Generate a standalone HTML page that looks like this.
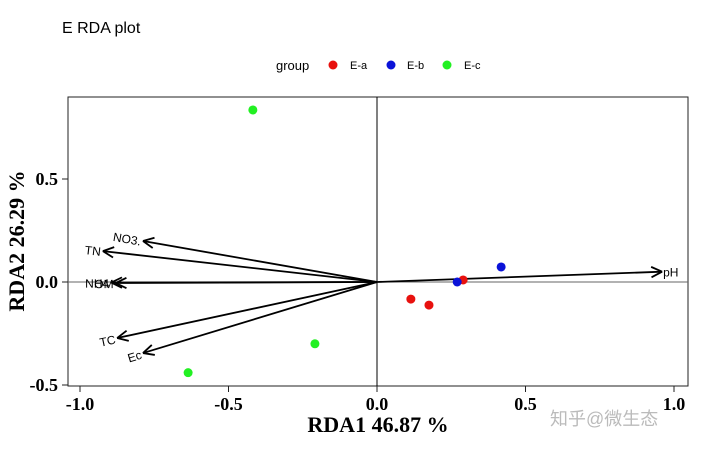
<!DOCTYPE html>
<html><head><meta charset="utf-8"><style>
body{margin:0;background:#fff;width:723px;height:450px;overflow:hidden}
svg text{font-family:"Liberation Sans",sans-serif}
.s{font-family:"Liberation Serif",serif;font-weight:bold}
</style></head><body>
<svg id="c" width="723" height="450">
<text x="62" y="33" font-size="16">E RDA plot</text>
<g>
<text x="276" y="70" font-size="13">group</text>
<circle cx="333" cy="65" r="4.5" fill="#e8110e"/><text x="350" y="69" font-size="11">E-a</text>
<circle cx="391" cy="65" r="4.5" fill="#0a12d8"/><text x="407" y="69" font-size="11">E-b</text>
<circle cx="447" cy="65" r="4.5" fill="#22f022"/><text x="464" y="69" font-size="11">E-c</text>
</g>
<rect x="68" y="97" width="620" height="289" fill="none" stroke="#222" stroke-width="1"/>
<g id="g"></g>
<text x="378" y="432" text-anchor="middle" font-size="22" class="s">RDA1 46.87  %</text>
<text transform="translate(24,241) rotate(-90)" text-anchor="middle" font-size="22" class="s">RDA2 26.29  %</text>
<text x="550" y="425" font-size="18" fill="#bbb" style="font-family:'Liberation Sans','Noto Sans CJK SC',sans-serif">知乎@微生态</text>
</svg>
<script>
const xTicks=[-1.0,-0.5,0.0,0.5,1.0];
const yTicks=[-0.5,0.0,0.5];
const groups=["E-a","E-a","E-a","E-b","E-b","E-c","E-c","E-c"];
const ptX=[0.29,0.114,0.175,0.27,0.418,-0.418,-0.209,-0.636];
const ptY=[0.01,-0.083,-0.112,0.0,0.073,0.835,-0.30,-0.44];
const envNames=["NO3.","TN","NH4","OM","TC","Ec","pH"];
const envX=[-0.788,-0.923,-0.895,-0.88,-0.875,-0.788,0.96];
const envY=[0.199,0.150,-0.003,-0.005,-0.272,-0.345,0.05];
const colors={"E-a":"#e8110e","E-b":"#0a12d8","E-c":"#22f022"};
const sx=v=>377+v*297, sy=v=>282-v*206;
const g=document.getElementById('g'),NS="http://www.w3.org/2000/svg";
function mk(t,a){const e=document.createElementNS(NS,t);for(const k in a)e.setAttribute(k,a[k]);g.appendChild(e);return e;}
let e=mk('line',{x1:68,x2:688,y1:sy(0),y2:sy(0),stroke:'#666'});


e=mk('line',{x1:sx(0),x2:sx(0),y1:97,y2:386,stroke:'#000'});


xTicks.forEach(v=>{mk('line',{x1:sx(v),x2:sx(v),y1:386,y2:392,stroke:'#222'});
 const t=mk('text',{x:sx(v),y:410,'text-anchor':'middle','font-size':18,class:'s'});t.textContent=v.toFixed(1);
 
 });
yTicks.forEach(v=>{mk('line',{x1:62,x2:68,y1:sy(v),y2:sy(v),stroke:'#222'});
 const t=mk('text',{x:58,y:sy(v)+6,'text-anchor':'end','font-size':18,class:'s'});t.textContent=v.toFixed(1);
 
 });
envNames.forEach((n,i)=>{const x=sx(envX[i]),y=sy(envY[i]),x0=sx(0),y0=sy(0);
 const l=mk('line',{x1:x0,y1:y0,x2:x,y2:y,stroke:'#000','stroke-width':1.8});
 
 
 const a=Math.atan2(y-y0,x-x0),h=12;
 [0.45,-0.45].forEach(d=>mk('line',{x1:x,y1:y,x2:x-h*Math.cos(a+d),y2:y-h*Math.sin(a+d),stroke:'#000','stroke-width':1.8}));
 const right=envX[i]>0;
 const t=mk('text',{x:right?x+1:x-2,y:y+5,'text-anchor':right?'start':'end','font-size':12,transform:`rotate(${right?0:a*180/Math.PI+180},${x},${y})`});
 t.textContent=n;
 
 });
ptX.forEach((v,i)=>{const c=mk('circle',{cx:sx(v),cy:sy(ptY[i]),r:4.5,fill:colors[groups[i]]});
 
 });
</script>
</body></html>
